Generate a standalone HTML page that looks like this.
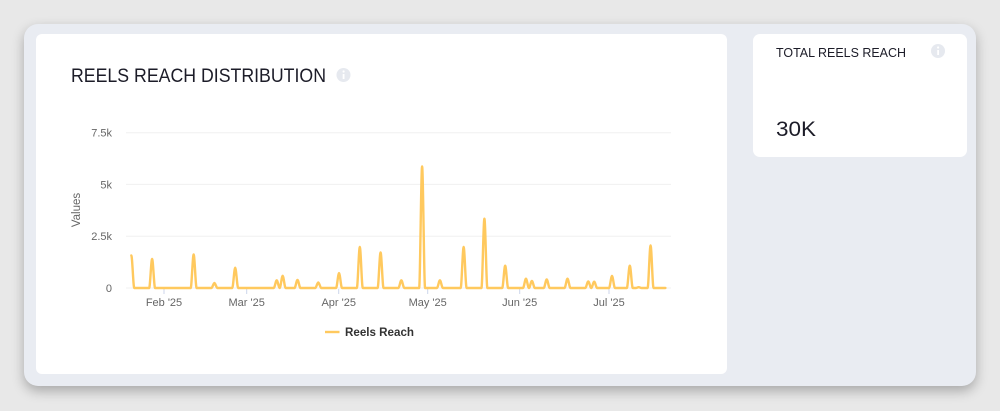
<!DOCTYPE html>
<html><head><meta charset="utf-8">
<style>
html,body{margin:0;padding:0;}
body{width:1000px;height:411px;background:#e8e8e8;position:relative;overflow:hidden;font-family:"Liberation Sans",sans-serif;}
.panel{position:absolute;left:24px;top:24px;width:952px;height:362px;background:#e9ecf2;border-radius:14px;box-shadow:0 5px 12px rgba(0,0,0,0.28);}
.card1{position:absolute;left:36px;top:34px;width:691px;height:340px;background:#fff;border-radius:6px;}
.card2{position:absolute;left:753px;top:34px;width:214px;height:123px;background:#fff;border-radius:7px;}
svg{position:absolute;left:0;top:0;}
</style></head>
<body>
<div class="panel"></div>
<div class="card1"></div>
<div class="card2"></div>
<svg width="1000" height="411" viewBox="0 0 1000 411" xmlns="http://www.w3.org/2000/svg">
  <!-- title -->
  <text x="71" y="82" font-family="Liberation Sans, sans-serif" font-size="19" fill="#1c1c28" textLength="255" lengthAdjust="spacingAndGlyphs">REELS REACH DISTRIBUTION</text>
  <circle cx="343.5" cy="75" r="7" fill="#e6e9ef"/>
  <rect x="342.7" y="74" width="1.8" height="5" fill="#fff"/>
  <circle cx="343.6" cy="71.5" r="1.1" fill="#fff"/>

  <!-- right card -->
  <text x="776" y="57" font-family="Liberation Sans, sans-serif" font-size="12.5" fill="#1c1c28" textLength="130" lengthAdjust="spacingAndGlyphs">TOTAL REELS REACH</text>
  <circle cx="938" cy="51" r="7" fill="#e6e9ef"/>
  <rect x="937.2" y="50" width="1.8" height="5" fill="#fff"/>
  <circle cx="938.1" cy="47.5" r="1.1" fill="#fff"/>
  <text x="776" y="136" font-family="Liberation Sans, sans-serif" font-size="21" fill="#1c1c28" textLength="40" lengthAdjust="spacingAndGlyphs">30K</text>

  <!-- grid -->
  <g stroke="#f0f0f0" stroke-width="1">
    <line x1="126" y1="132.7" x2="671" y2="132.7"/>
    <line x1="126" y1="184.4" x2="671" y2="184.4"/>
    <line x1="126" y1="236.2" x2="671" y2="236.2"/>
    <line x1="126" y1="288" x2="671" y2="288"/>
  </g>
  <!-- x ticks -->
  <g stroke="#ccd6eb" stroke-width="1">
    <line x1="164" y1="289" x2="164" y2="294"/>
    <line x1="246.7" y1="289" x2="246.7" y2="294"/>
    <line x1="338.7" y1="289" x2="338.7" y2="294"/>
    <line x1="427.7" y1="289" x2="427.7" y2="294"/>
    <line x1="519.7" y1="289" x2="519.7" y2="294"/>
    <line x1="609" y1="289" x2="609" y2="294"/>
  </g>
  <!-- y labels -->
  <g font-family="Liberation Sans, sans-serif" font-size="11" fill="#666" text-anchor="end">
    <text x="112" y="136.7">7.5k</text>
    <text x="112" y="188.4">5k</text>
    <text x="112" y="240.2">2.5k</text>
    <text x="112" y="292">0</text>
  </g>
  <text transform="translate(80,210) rotate(-90)" font-family="Liberation Sans, sans-serif" font-size="11.5" fill="#666" text-anchor="middle">Values</text>
  <!-- x labels -->
  <g font-family="Liberation Sans, sans-serif" font-size="11" fill="#666" text-anchor="middle">
    <text x="164" y="306">Feb '25</text>
    <text x="246.7" y="306">Mar '25</text>
    <text x="338.7" y="306">Apr '25</text>
    <text x="427.7" y="306">May '25</text>
    <text x="519.7" y="306">Jun '25</text>
    <text x="609" y="306">Jul '25</text>
  </g>

  <!-- series -->
  <path fill="none" stroke="#ffc95e" stroke-width="2.4" stroke-linejoin="round" stroke-linecap="round" d="
M131.3,255.4 c0.99,0 1.98,32.6 2.97,32.6
L149.14,288 c0.99,0 1.98,-29 2.97,-29 c0.99,0 1.98,29 2.97,29
L190.68,288 c0.99,0 1.98,-33.5 2.97,-33.5 c0.99,0 1.98,33.5 2.97,33.5
L211.45,288 c0.99,0 1.98,-5 2.97,-5 c0.99,0 1.98,5 2.97,5
L232.22,288 c0.99,0 1.98,-20.3 2.97,-20.3 c0.99,0 1.98,20.3 2.97,20.3
L273.75,288 c0.99,0 1.98,-7.7 2.97,-7.7 c0.99,0 1.98,7.7 2.97,7.7
L279.69,288 c0.99,0 1.98,-12.2 2.97,-12.2 c0.99,0 1.98,12.2 2.97,12.2
L294.52,288 c0.99,0 1.98,-8.1 2.97,-8.1 c0.99,0 1.98,8.1 2.97,8.1
L315.29,288 c0.99,0 1.98,-5.6 2.97,-5.6 c0.99,0 1.98,5.6 2.97,5.6
L336.06,288 c0.99,0 1.98,-14.9 2.97,-14.9 c0.99,0 1.98,14.9 2.97,14.9
L356.83,288 c0.99,0 1.98,-41 2.97,-41 c0.99,0 1.98,41 2.97,41
L377.6,288 c0.99,0 1.98,-35.6 2.97,-35.6 c0.99,0 1.98,35.6 2.97,35.6
L398.37,288 c0.99,0 1.98,-7.7 2.97,-7.7 c0.99,0 1.98,7.7 2.97,7.7
L419.14,288 c0.99,0 1.98,-121.6 2.97,-121.6 c0.99,0 1.98,121.6 2.97,121.6
L436.94,288 c0.99,0 1.98,-7.7 2.97,-7.7 c0.99,0 1.98,7.7 2.97,7.7
L460.67,288 c0.99,0 1.98,-41 2.97,-41 c0.99,0 1.98,41 2.97,41
L481.44,288 c0.99,0 1.98,-69.3 2.97,-69.3 c0.99,0 1.98,69.3 2.97,69.3
L502.21,288 c0.99,0 1.98,-22.3 2.97,-22.3 c0.99,0 1.98,22.3 2.97,22.3
L522.98,288 c0.99,0 1.98,-9.3 2.97,-9.3 c0.99,0 1.98,9.3 2.97,9.3
L528.92,288 c0.99,0 1.98,-7 2.97,-7 c0.99,0 1.98,7 2.97,7
L543.75,288 c0.99,0 1.98,-8.6 2.97,-8.6 c0.99,0 1.98,8.6 2.97,8.6
L564.52,288 c0.99,0 1.98,-9.3 2.97,-9.3 c0.99,0 1.98,9.3 2.97,9.3
L585.29,288 c0.99,0 1.98,-6.6 2.97,-6.6 c0.99,0 1.98,6.6 2.97,6.6
L591.22,288 c0.99,0 1.98,-6.3 2.97,-6.3 c0.99,0 1.98,6.3 2.97,6.3
L609.02,288 c0.99,0 1.98,-12 2.97,-12 c0.99,0 1.98,12 2.97,12
L626.83,288 c0.99,0 1.98,-22.3 2.97,-22.3 c0.99,0 1.98,22.3 2.97,22.3
L635.73,288 c0.99,0 1.98,-0.8 2.97,-0.8 c0.99,0 1.98,0.8 2.97,0.8
L647.6,288 c0.99,0 1.98,-42.6 2.97,-42.6 c0.99,0 1.98,42.6 2.97,42.6
L665.4,288"/>

  <!-- legend -->
  <line x1="325" y1="332" x2="339.5" y2="332" stroke="#ffc95e" stroke-width="2.4"/>
  <text x="345" y="336" font-family="Liberation Sans, sans-serif" font-size="12" font-weight="bold" fill="#333" textLength="69" lengthAdjust="spacingAndGlyphs">Reels Reach</text>
</svg>
</body></html>
